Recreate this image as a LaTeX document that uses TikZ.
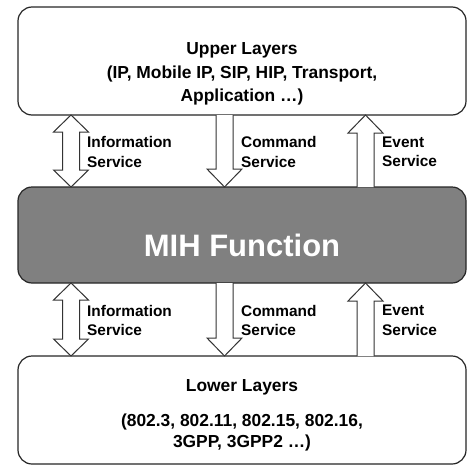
\documentclass[tikz,border=0pt]{standalone}
\usepackage{fontspec}
\setmainfont{Liberation Sans}
\begin{document}
\begin{tikzpicture}[x=1pt,y=-1pt,
  layerbox/.style={draw=black!85,line width=1.2pt,rounded corners=14pt,fill=white},
  mihbox/.style={draw=black!85,line width=1.2pt,rounded corners=14pt,fill=black!50},
  blockarrow/.style={draw=black!80,line width=1pt,fill=white,line join=miter},
  svclabel/.style={anchor=west,align=left,font=\fontsize{15.4}{19.5}\selectfont\bfseries,inner sep=0pt},
  boxtext/.style={align=center,font=\fontsize{17.4}{23.5}\selectfont\bfseries,inner sep=0pt}]
\useasboundingbox (0,0) rectangle (474,474);
% boxes
\draw[layerbox] (18,7) rectangle (466,115);
\draw[mihbox] (18,187) rectangle (466,283);
\draw[layerbox] (18,356) rectangle (466,464);
\node[boxtext] (up) at (242,74) {Upper Layers\\(IP, Mobile IP, SIP, HIP, Transport,\\Application \dots)};
\node[font=\fontsize{31}{36}\selectfont\bfseries,text=white] (mih) at (242,245) {MIH Function};
\node[boxtext,font=\fontsize{17.4}{20.5}\selectfont\bfseries] (low) at (242,415) {Lower Layers\\[15pt](802.3, 802.11, 802.15, 802.16,\\3GPP, 3GPP2 \dots)};
% arrows: pairs (upper band 115-187, lower band 283-356)
\foreach \t/\b in {115/187, 283/356}{
  % information double arrow, center 71
  \draw[blockarrow] (71,\t) -- (88.5,\t+17) -- (79.5,\t+17) -- (79.5,\b-17) -- (88.5,\b-17)
     -- (71,\b) -- (53.5,\b-17) -- (62.5,\b-17) -- (62.5,\t+17) -- (53.5,\t+17) -- cycle;
  % command down arrow, center 224.5
  \draw[blockarrow] (216,\t) -- (216,\b-18) -- (207,\b-18) -- (224.5,\b) -- (242,\b-18)
     -- (233,\b-18) -- (233,\t);
  % event up arrow, center 365.5
  \draw[blockarrow] (357,\b) -- (357,\t+18) -- (348,\t+18) -- (365.5,\t) -- (383,\t+18)
     -- (374,\t+18) -- (374,\b);
}
\node[svclabel] (i1) at (87,152) {Information\\Service};
\node[svclabel] (c1) at (241,152) {Command\\Service};
\node[svclabel] (e1) at (382,152) {Event\\Service};
\node[svclabel] (i2) at (87,320.5) {Information\\Service};
\node[svclabel] (c2) at (241,320.5) {Command\\Service};
\node[svclabel] (e2) at (382,320.5) {Event\\Service};
\end{tikzpicture}
\end{document}
